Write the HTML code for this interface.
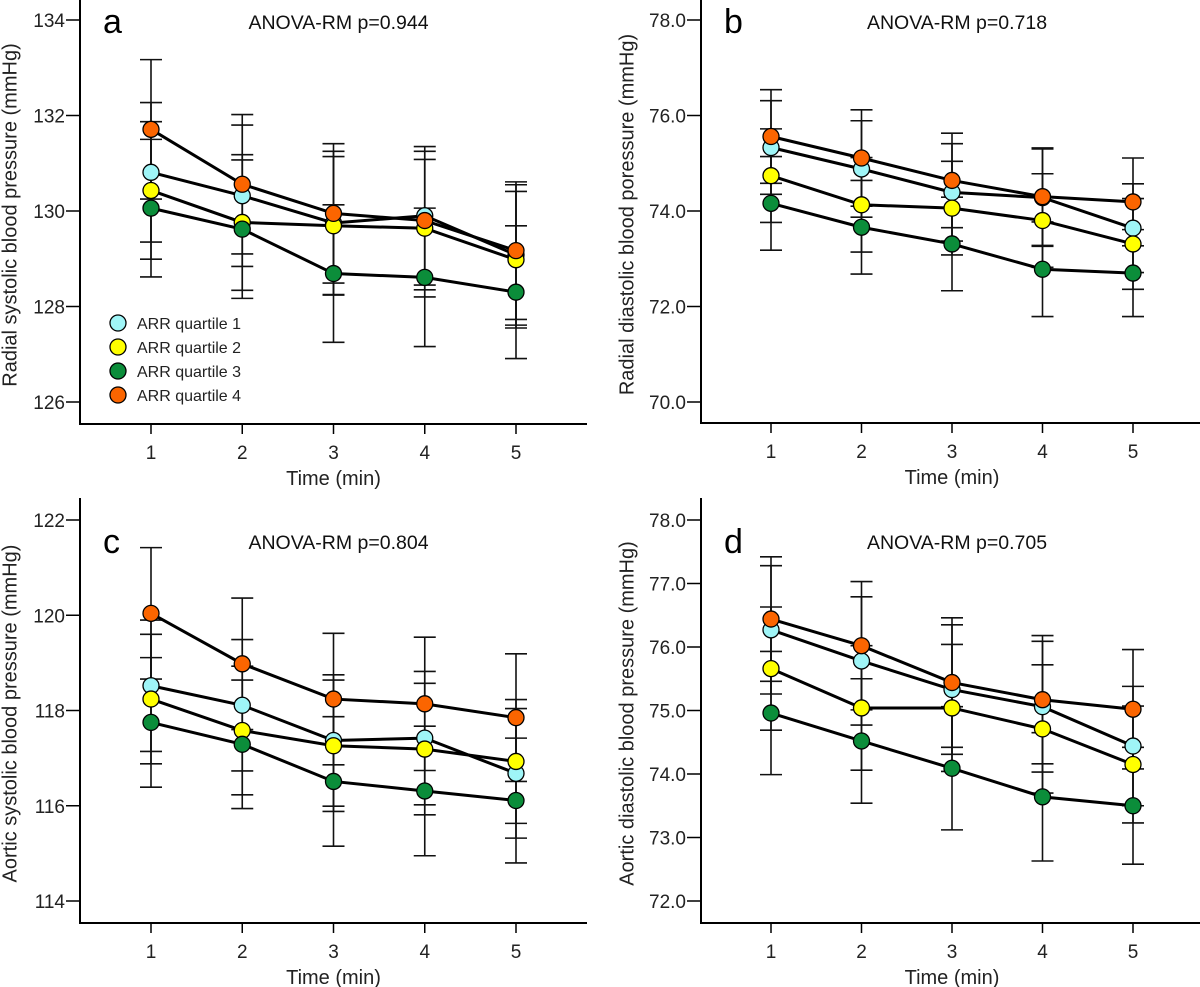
<!DOCTYPE html>
<html><head><meta charset="utf-8"><style>
html,body{margin:0;padding:0;background:#fff;}
svg{display:block;font-family:"Liberation Sans",Arial,sans-serif;}
</style></head><body>
<svg id="fig" width="1200" height="987" viewBox="0 0 1200 987" xmlns="http://www.w3.org/2000/svg"></svg>
<script>
const times = [1, 2, 3, 4, 5];
const seriesNames = ["ARR quartile 1", "ARR quartile 2", "ARR quartile 3", "ARR quartile 4"];
const seriesColors = ["#9ff5f7", "#ffff00", "#0b8d3a", "#fb6500"];

// Panel a: radial systolic
const aQ1 = [130.81, 130.32, 129.75, 129.90, 129.08];
const aQ2 = [130.43, 129.76, 129.69, 129.64, 128.98];
const aQ3 = [130.06, 129.62, 128.69, 128.61, 128.30];
const aQ4 = [131.71, 130.56, 129.95, 129.80, 129.17];
const aErr1 = [1.46, 1.48, 1.50, 1.45, 1.47];
const aErr2 = [1.44, 1.42, 1.45, 1.44, 1.43];
const aErr3 = [1.44, 1.45, 1.44, 1.45, 1.39];
const aErr4 = [1.46, 1.46, 1.46, 1.45, 1.44];
const aTicks = [126, 128, 130, 132, 134];

// Panel b: radial diastolic
const bQ1 = [75.33, 74.88, 74.39, 74.28, 73.64];
const bQ2 = [74.74, 74.13, 74.06, 73.80, 73.31];
const bQ3 = [74.16, 73.66, 73.31, 72.78, 72.70];
const bQ4 = [75.56, 75.11, 74.64, 74.30, 74.19];
const bErr1 = [0.98, 1.01, 1.02, 1.02, 0.93];
const bErr2 = [0.98, 0.99, 0.98, 0.98, 0.95];
const bErr3 = [0.98, 0.98, 0.98, 0.99, 0.91];
const bErr4 = [0.98, 1.01, 0.99, 1.02, 0.92];
const bTicks = ["70.0", "72.0", "74.0", "76.0", "78.0"];

// Panel c: aortic systolic
const cQ1 = [118.52, 118.11, 117.37, 117.42, 116.68];
const cQ2 = [118.24, 117.58, 117.26, 117.19, 116.93];
const cQ3 = [117.75, 117.29, 116.51, 116.31, 116.11];
const cQ4 = [120.04, 118.98, 118.24, 118.14, 117.85];
const cErr1 = [1.38, 1.38, 1.38, 1.40, 1.36];
const cErr2 = [1.36, 1.35, 1.38, 1.38, 1.30];
const cErr3 = [1.36, 1.35, 1.36, 1.36, 1.31];
const cErr4 = [1.38, 1.38, 1.38, 1.40, 1.34];
const cTicks = [114, 116, 118, 120, 122];

// Panel d: aortic diastolic
const dQ1 = [76.27, 75.78, 75.33, 75.06, 74.44];
const dQ2 = [75.66, 75.04, 75.04, 74.71, 74.15];
const dQ3 = [74.96, 74.52, 74.09, 73.64, 73.50];
const dQ4 = [76.44, 76.02, 75.44, 75.17, 75.02];
const dErr1 = [1.01, 1.01, 1.02, 1.03, 0.94];
const dErr2 = [0.97, 0.98, 1.00, 1.01, 0.92];
const dErr3 = [0.97, 0.98, 0.97, 1.01, 0.92];
const dErr4 = [0.98, 1.01, 1.02, 1.01, 0.94];
const dTicks = ["72.0", "73.0", "74.0", "75.0", "76.0", "77.0", "78.0"];

const NS = "http://www.w3.org/2000/svg";
const svg = document.getElementById("fig");
function mk(tag, attrs, parent) {
  const e = document.createElementNS(NS, tag);
  for (const k in attrs) e.setAttribute(k, attrs[k]);
  (parent || svg).appendChild(e);
  return e;
}

const panels = [
  {id:"a", ax:80, right:587, top:0, bottom:424, x1:151, x5:516, yMin:126, yMax:134, yTopPix:20, yBotPix:402,
   ticks:aTicks, series:[aQ1,aQ2,aQ3,aQ4], errs:[aErr1,aErr2,aErr3,aErr4], p:"ANOVA-RM p=0.944",
   ytitle:"Radial systolic blood pressure (mmHg)", ytx:11, legend:true},
  {id:"b", ax:701, right:1200, top:0, bottom:423, x1:771, x5:1133, yMin:70, yMax:78, yTopPix:20, yBotPix:402,
   ticks:bTicks, series:[bQ1,bQ2,bQ3,bQ4], errs:[bErr1,bErr2,bErr3,bErr4], p:"ANOVA-RM p=0.718",
   ytitle:"Radial diastolic blood poressure (mmHg)", ytx:628, legend:false},
  {id:"c", ax:80, right:587, top:498, bottom:923, x1:151, x5:516, yMin:114, yMax:122, yTopPix:520, yBotPix:901,
   ticks:cTicks, series:[cQ1,cQ2,cQ3,cQ4], errs:[cErr1,cErr2,cErr3,cErr4], p:"ANOVA-RM p=0.804",
   ytitle:"Aortic systolic blood pressure (mmHg)", ytx:11, legend:false},
  {id:"d", ax:701, right:1200, top:498, bottom:923, x1:771, x5:1133, yMin:72, yMax:78, yTopPix:520, yBotPix:901,
   ticks:dTicks, series:[dQ1,dQ2,dQ3,dQ4], errs:[dErr1,dErr2,dErr3,dErr4], p:"ANOVA-RM p=0.705",
   ytitle:"Aortic diastolic blood pressure (mmHg)", ytx:628, legend:false}
];

panels.forEach(P => {
  const g = mk("g", {});
  
  
  const xs = t => P.x1 + (t - 1) * (P.x5 - P.x1) / 4;
  const ys = v => P.yBotPix - (v - P.yMin) * (P.yBotPix - P.yTopPix) / (P.yMax - P.yMin);

  const yAxis = mk("line", {x1:P.ax, y1:P.top, x2:P.ax, y2:P.bottom, stroke:"#000", "stroke-width":2}, g);
  
  
  const xAxis = mk("line", {x1:P.ax-1, y1:P.bottom, x2:P.right, y2:P.bottom, stroke:"#000", "stroke-width":2}, g);
  
  

  P.ticks.forEach(tk => {
    const y = ys(parseFloat(tk));
    mk("line", {x1:P.ax-14, y1:y, x2:P.ax, y2:y, stroke:"#000", "stroke-width":1.5}, g);
    const t = mk("text", {x:P.ax-15, y:y+7, "text-anchor":"end", "font-size":19, fill:"#222"}, g);
    t.textContent = tk;
    
    
  });
  times.forEach(tm => {
    const x = xs(tm);
    mk("line", {x1:x, y1:P.bottom, x2:x, y2:P.bottom+10, stroke:"#000", "stroke-width":1.5}, g);
    const t = mk("text", {x:x, y:P.bottom+35, "text-anchor":"middle", "font-size":19, fill:"#222"}, g);
    t.textContent = tm;
    
    
  });

  const xt = mk("text", {x:(P.x1+P.x5)/2, y:P.bottom+61, "text-anchor":"middle", "font-size":20, fill:"#222"}, g);
  xt.textContent = "Time (min)";
  
  

  const cy = (P.top + P.bottom) / 2 + 3;
  const yt = mk("text", {x:P.ytx, y:cy, "text-anchor":"middle", "font-size":20, fill:"#222",
    transform:`rotate(-90 ${P.ytx} ${cy})`, "dominant-baseline":"middle"}, g);
  yt.textContent = P.ytitle;
  
  

  const top2 = (P.id==="a"||P.id==="b");
  const lt = mk("text", {x:P.ax+23, y:P.top+(top2?33:55), "font-size":34, fill:"#000"}, g);
  lt.textContent = P.id;
  
  

  const pt = mk("text", {x:(P.x1+P.x5)/2 + 5, y:P.top+(top2?29:51), "text-anchor":"middle", "font-size":19.5, fill:"#111"}, g);
  pt.textContent = P.p;
  
  

  P.series.forEach((s, si) => {
    s.forEach((v, i) => {
      const x = xs(times[i]);
      const e = P.errs[si][i];
      const eb = mk("g", {stroke:"#111", "stroke-width":1.6}, g);
      
      
      mk("line", {x1:x, y1:ys(v+e), x2:x, y2:ys(v-e)}, eb);
      mk("line", {x1:x-11, y1:ys(v+e), x2:x+11, y2:ys(v+e)}, eb);
      mk("line", {x1:x-11, y1:ys(v-e), x2:x+11, y2:ys(v-e)}, eb);
    });
  });
  P.series.forEach((s, si) => {
    const pl = mk("polyline", {points:s.map((v,i)=>xs(times[i])+","+ys(v)).join(" "), fill:"none", stroke:"#000", "stroke-width":3}, g);
    
    
  });
  P.series.forEach((s, si) => {
    s.forEach((v, i) => {
      const c = mk("circle", {cx:xs(times[i]), cy:ys(v), r:8, fill:seriesColors[si], stroke:"#000", "stroke-width":1.3}, g);
      
      
    });
  });

  if (P.legend) {
    const lg = mk("g", {}, g);
    
    
    seriesNames.forEach((n, si) => {
      const y = 323 + si * 24;
      const en = mk("g", {}, lg);
      
      
      mk("circle", {cx:118, cy:y, r:8, fill:seriesColors[si], stroke:"#000", "stroke-width":1.3}, en);
      const t = mk("text", {x:137, y:y+6, "font-size":16, fill:"#222"}, en);
      t.textContent = n;
    });
  }
});
</script>
</body></html>
